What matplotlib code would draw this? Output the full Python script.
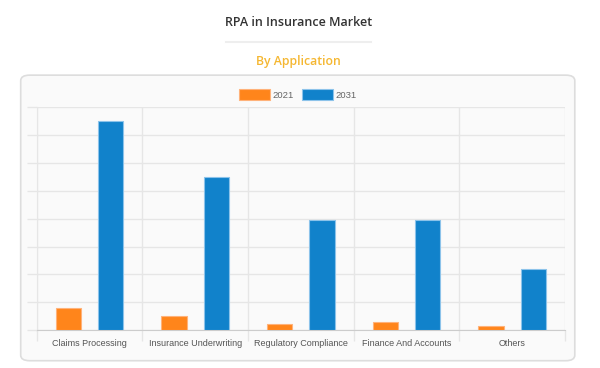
import matplotlib.pyplot as plt
import numpy as np
from matplotlib.patches import FancyBboxPatch
from matplotlib.lines import Line2D

# dati (unita' = intervalli della griglia)
categories = ['Claims Processing', 'Insurance Underwriting', 'Regulatory Compliance',
              'Finance And Accounts', 'Others']
years = ['2021', '2031']
values_2021 = [0.79, 0.51, 0.23, 0.31, 0.15]
values_2031 = [7.51, 5.49, 3.97, 3.94, 2.18]

color_2021 = '#ff851b'
color_2031 = '#1182cb'
grid_color = '#e6e6e6'

fig = plt.figure(figsize=(6, 3.68), dpi=100)
fig.patch.set_facecolor('white')

# card con bordo arrotondato
card = FancyBboxPatch((0.0345, 0.0198), 0.9235, 0.776,
                      boxstyle='round,pad=0,rounding_size=0.015',
                      transform=fig.transFigure, facecolor='#fafafa',
                      edgecolor='#dddddd', linewidth=1.2, zorder=-1)
fig.patches.append(card)

# titoli
fig.text(0.497, 0.94, 'RPA in Insurance Market', ha='center', va='center',
         fontsize=9, family='Open Sans', fontweight='semibold', color='#333333')
fig.add_artist(Line2D([0.377, 0.618], [0.887, 0.887], transform=fig.transFigure,
                      color='#eeeeee', linewidth=1.5))
fig.text(0.497, 0.832, 'By Application', ha='center', va='center',
         fontsize=8.8, family='Open Sans', fontweight='semibold', color='#f5b731')

ax = fig.add_axes([0.0612, 0.1024, 0.8805, 0.6068])
ax.set_zorder(1)
ax.set_facecolor('none')

x = np.arange(len(categories))
width = 0.24
ax.bar(x - 0.2, values_2021, width, color=color_2021, edgecolor='#ffb27a',
       linewidth=0.8, label=years[0], zorder=3)
ax.bar(x + 0.2, values_2031, width, color=color_2031, edgecolor='#8cc3ea',
       linewidth=0.8, label=years[1], zorder=3)

ax.set_xlim(-0.5, len(categories) - 0.5)
ax.set_ylim(0, 8)
ax.set_yticks(range(0, 9))
ax.set_yticklabels([])
ax.tick_params(axis='y', length=7, color=grid_color, width=1)

ax.set_xticks(x)
ax.set_xticklabels(categories, fontsize=6.5, family='Liberation Sans', color='#555555')
ax.set_xticks(np.arange(-0.5, len(categories)), minor=True)
ax.tick_params(axis='x', which='major', length=0, pad=6)
ax.tick_params(axis='x', which='minor', length=8, color=grid_color, width=1)

ax.grid(True, axis='y', color=grid_color, linewidth=1, zorder=0)
ax.grid(True, axis='x', which='minor', color=grid_color, linewidth=1, zorder=0)

for side in ['top', 'right']:
    ax.spines[side].set_visible(False)
ax.spines['left'].set_color(grid_color)
ax.spines['bottom'].set_color('#cccccc')

leg = ax.legend(loc='lower center', bbox_to_anchor=(0.494, 1.015), ncol=2, frameon=False,
                fontsize=6.8, handlelength=3.3, handleheight=1.4, columnspacing=0.8,
                handletextpad=0.3, borderaxespad=0)
for t in leg.get_texts():
    t.set_color('#666666')
    t.set_family('Liberation Sans')

plt.savefig('out.png', dpi=100)
